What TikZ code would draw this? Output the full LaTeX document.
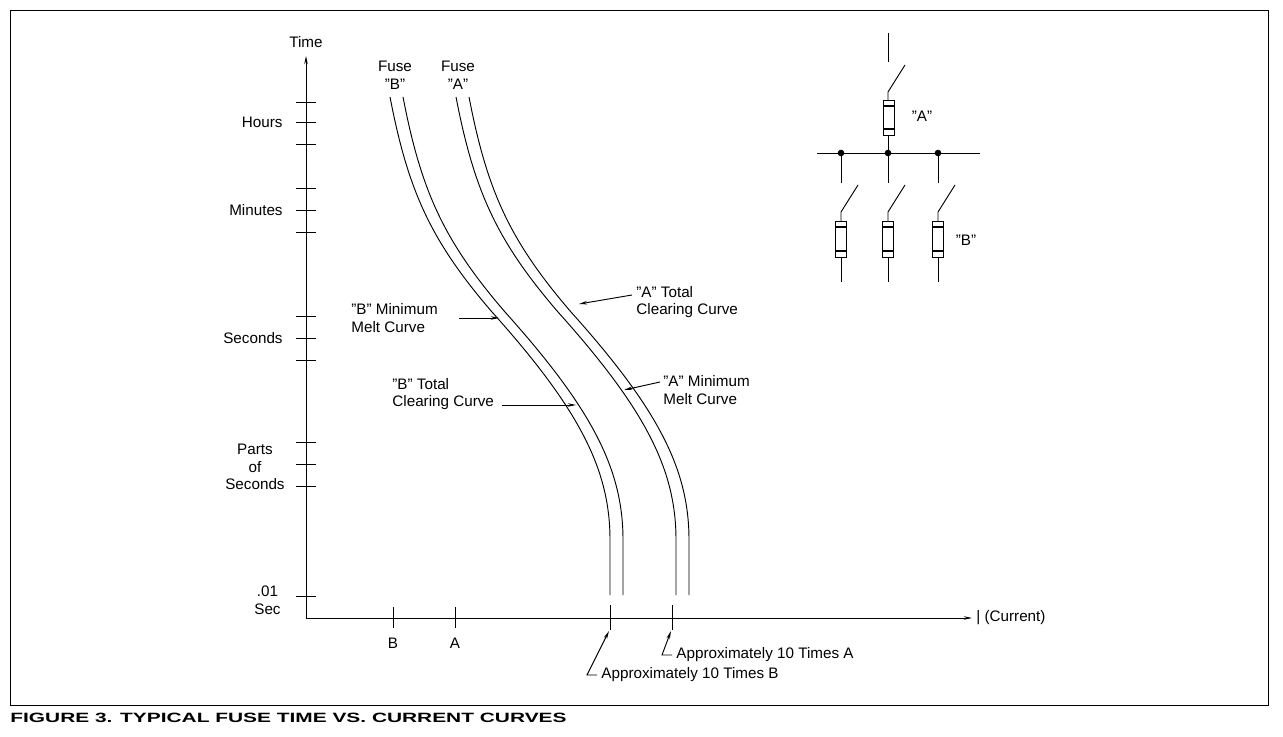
\documentclass[tikz,border=0pt]{standalone}
\usepackage{fontspec}
\setmainfont{Liberation Sans}
\usetikzlibrary{arrows.meta}
\begin{document}
\begin{tikzpicture}[x=0.03cm,y=-0.03cm,
  lbl/.style={font=\fontsize{13}{15}\selectfont,inner sep=1pt},
  ln/.style={line width=0.8pt},
  arr/.style={ln,-{Stealth[length=7pt,width=3pt]}}]
\useasboundingbox (0,0) rectangle (1283,737);
\fill[white] (0,0) rectangle (1283,737);
\draw[line width=0.8pt] (10,10) rectangle (1268,705);
\node[anchor=west,font=\bfseries\fontsize{11.5}{12}\selectfont,inner sep=0,xscale=1.55] (cap) at (10,718) {FIGURE 3. TYPICAL FUSE TIME VS. CURRENT CURVES};
% axes
\coordinate (o) at (306,618);
\coordinate (ytop) at (306,56);
\coordinate (xend) at (972,618);
\draw[arr] (o) -- (ytop);
\draw[arr] (o) -- (xend);
\node[lbl] (time) at (306,42) {Time};
\node[lbl,anchor=west] (cur) at (975,618) {| (Current)};
\foreach \y in {102,122,144,188,210,232,316,338,360,442,464,486,596}
  \draw[ln] (296,\y) -- (316,\y);
\node[lbl,anchor=east] (hrs) at (284,122) {Hours};
\node[lbl,anchor=east] (min) at (284,210) {Minutes};
\node[lbl,anchor=east] (sec) at (284,338) {Seconds};
\node[lbl,anchor=east,align=center] (pos) at (286,467) {Parts\\of\\Seconds};
\node[lbl,anchor=east,align=center] (s01) at (282,600) {.01\\Sec};
\draw[ln] (393,607) -- (393,628); \node[lbl] (bx) at (393,643) {B};
\draw[ln] (455,607) -- (455,628); \node[lbl] (ax) at (455,643) {A};
% curves
\foreach \d in {0,13,66,79}
  \draw[ln] ({390+\d},97) .. controls ({408+\d},190) and ({430+\d},240) .. ({492+\d},312)
     .. controls ({580+\d},410) and ({610+\d},470) .. ({610+\d},540) -- ({610+\d},595);
\node[lbl,align=center] (fb) at (395,75) {Fuse\\"B"};
\node[lbl,align=center] (fa) at (458,75) {Fuse\\"A"};
% leaders
\node[lbl,anchor=west,align=left] (bmm) at (350,318) {"B" Minimum\\Melt Curve};
\coordinate (bmmt) at (499,318);
\draw[arr] (459,318) -- (bmmt);
\node[lbl,anchor=west,align=left] (btc) at (391,394) {"B" Total\\Clearing Curve};
\coordinate (btct) at (576,405);
\draw[arr] (502,405) -- (btct);
\node[lbl,anchor=west,align=left] (atc) at (635,302) {"A" Total\\Clearing Curve};
\coordinate (atct) at (579,304);
\draw[arr] (632,295) -- (atct);
\node[lbl,anchor=west,align=left] (amm) at (662,390) {"A" Minimum\\Melt Curve};
\coordinate (ammt) at (624,390);
\draw[arr] (660,382) -- (ammt);
% multiples
\draw[ln] (610,605) -- (610,630);
\draw[ln] (672,605) -- (672,630);
\node[lbl,anchor=west] (tb) at (600,675) {Approximately 10 Times B};
\node[lbl,anchor=west] (ta) at (675,655) {Approximately 10 Times A};
\coordinate (tbt) at (609,631); \coordinate (tat) at (671,631);
\draw[arr] (597,675) -- (587,675) -- (tbt);
\draw[arr] (672,655) -- (662,655) -- (tat);
% circuit
\begin{scope}[line width=0.8pt]
\draw (888,33) -- (888,62);
\draw (905,65) -- (888,92) -- (888,100);
\draw[line width=0.5pt] (883,100) rectangle (894,135);
\draw[line width=1pt] (883,106) -- (894,106) (883,129) -- (894,129);
\draw (888,135) -- (888,153);
\node[lbl] (la) at (922,116) {"A"};
\draw (817,153) -- (980,153);
\foreach \x in {841,888,938} {
  \fill (\x,153) circle (3.3);
  \draw (\x,153) -- (\x,183);
  \draw ({\x+17},185) -- (\x,212) -- (\x,221);
  \draw[line width=0.5pt] ({\x-5.5},221) rectangle ({\x+5.5},257);
  \draw[line width=1pt] ({\x-5.5},227) -- ({\x+5.5},227) ({\x-5.5},251) -- ({\x+5.5},251);
  \draw (\x,257) -- (\x,282);
}
\node[lbl] (lb) at (966,240) {"B"};
\end{scope}
\end{tikzpicture}
\end{document}
